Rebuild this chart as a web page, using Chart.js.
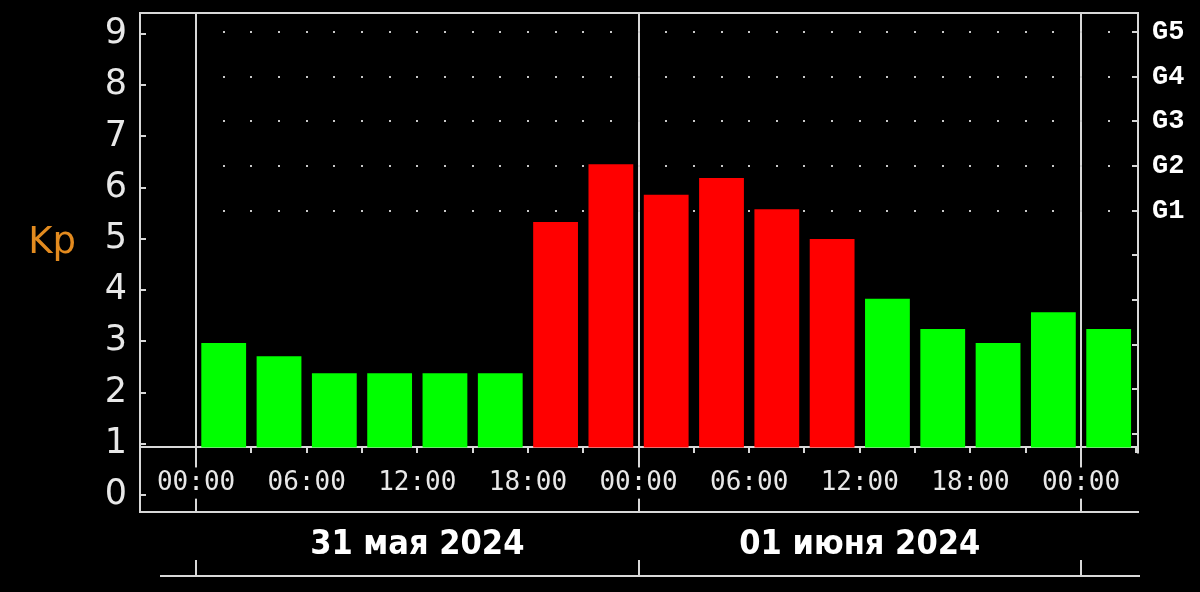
<!DOCTYPE html>
<html>
<head>
<meta charset="utf-8">
<script src="https://cdn.jsdelivr.net/npm/chart.js@4.4.1/dist/chart.umd.min.js"></script>
<style>
  html, body { margin: 0; padding: 0; background: #000; }
  #kp-chart { display: block; background: #000; }
</style>
</head>
<body>
<canvas id="kp-chart" width="1200" height="592"></canvas>
<script>
// Kp index, 3-hour intervals, 31 May - 01 June 2024
const periodMid = [1.5, 4.5, 7.5, 10.5, 13.5, 16.5, 19.5, 22.5, 25.5, 28.5, 31.5, 34.5, 37.5, 40.5, 43.5, 46.5, 49.5];
const kpValues = [2.97, 2.71, 2.38, 2.38, 2.38, 2.38, 5.33, 6.46, 5.86, 6.19, 5.58, 5.00, 3.83, 3.24, 2.97, 3.57, 3.24];

const kpTicks = [0, 1, 2, 3, 4, 5, 6, 7, 8, 9];
const gTicks = [1, 2, 3, 4, 5, 6, 7, 8, 9, 10];
const gLabels = ['', '', '', '', '', 'G1', 'G2', 'G3', 'G4', 'G5'];
const gRows = [6, 7, 8, 9, 10];

const hourTicks = [0, 3, 6, 9, 12, 15, 18, 21, 24, 27, 30, 33, 36, 39, 42, 45, 48, 51];
const hourLabels = ['00:00', '', '06:00', '', '12:00', '', '18:00', '', '00:00', '', '06:00', '', '12:00', '', '18:00', '', '00:00', ''];
const dayBounds = [0, 24, 48];
const dateTicks = [12, 36];
const dateLabels = ['31 мая 2024', '01 июня 2024'];

const STORM_LEVEL = 5;
const AXIS_LEVEL = 0.93;

const GREEN = '#00ff00';
const RED = '#ff0000';
const LINE = '#d8d8d8';
const TEXT = '#e8e8e8';
const ORANGE = '#e38b1f';

const X_MIN = -3.04, X_MAX = 51.09;

const barColors = kpValues.map(v => v >= STORM_LEVEL ? RED : GREEN);

// chart.js reserves room for edge labels; the frame here is fixed
function noPadding(s) {
    s.paddingLeft = 0;
    s.paddingRight = 0;
    s.paddingTop = 0;
    s.paddingBottom = 0;
}

const framePlugin = {
    id: 'frame',
    beforeDraw(chart) {
        const {ctx, chartArea: a, scales: {x, y2}} = chart;
        ctx.save();
        // day boundaries
        ctx.strokeStyle = LINE;
        ctx.lineWidth = 2;
        dayBounds.forEach(h => {
            const px = Math.round(x.getPixelForValue(h));
            ctx.beginPath();
            ctx.moveTo(px, a.top);
            ctx.lineTo(px, a.bottom);
            ctx.stroke();
        });
        // dotted storm levels
        ctx.fillStyle = '#c8c8c8';
        gRows.forEach(g => {
            const py = Math.round(y2.getPixelForValue(g));
            for (let h = 1.5; h < 51; h += 1.5) {
                const px = Math.round(x.getPixelForValue(h));
                ctx.fillRect(px - 1, py - 1, 2, 2);
            }
        });
        ctx.restore();
    },
    afterDraw(chart) {
        const {ctx, chartArea: a, scales: {x, y, y2}} = chart;
        ctx.save();
        ctx.strokeStyle = LINE;
        ctx.lineWidth = 2;
        const axisY = y.getPixelForValue(AXIS_LEVEL);

        ctx.beginPath();
        ctx.moveTo(a.left - 1, a.top);
        ctx.lineTo(a.right + 1, a.top);
        ctx.moveTo(a.right, a.top);
        ctx.lineTo(a.right, axisY + 6);
        ctx.stroke();

        // inward ticks
        ctx.beginPath();
        kpTicks.forEach(v => {
            const py = Math.round(y.getPixelForValue(v));
            ctx.moveTo(a.left, py);
            ctx.lineTo(a.left + 6, py);
        });
        gTicks.forEach(v => {
            const py = Math.round(y2.getPixelForValue(v));
            ctx.moveTo(a.right - 6, py);
            ctx.lineTo(a.right, py);
        });
        ctx.stroke();

        // date strip bottom line
        const lowY = a.bottom + 64;
        ctx.beginPath();
        ctx.moveTo(a.left + 20, lowY);
        ctx.lineTo(a.right + 2, lowY);
        dayBounds.forEach(h => {
            const px = Math.round(x.getPixelForValue(h));
            ctx.moveTo(px, lowY - 16);
            ctx.lineTo(px, lowY);
        });
        ctx.stroke();

        // Kp title
        ctx.fillStyle = ORANGE;
        ctx.font = '37px "DejaVu Sans"';
        ctx.textAlign = 'center';
        ctx.textBaseline = 'alphabetic';
        ctx.fillText('Kp', 52, y.getPixelForValue(4.98) + 13);
        ctx.restore();
    }
};

const ctx = document.getElementById('kp-chart');
new Chart(ctx, {
    type: 'bar',
    data: {
        datasets: [{
            data: periodMid.map((h, i) => ({x: h, y: kpValues[i]})),
            backgroundColor: barColors,
            base: AXIS_LEVEL,
            borderWidth: 0,
            barPercentage: 0.81,
            categoryPercentage: 1,
            xAxisID: 'x',
            yAxisID: 'y'
        }]
    },
    options: {
        responsive: false,
        animation: false,
        layout: { padding: { top: 13, left: 0, right: 0, bottom: 0 } },
        plugins: { legend: { display: false }, tooltip: { enabled: false } },
        scales: {
            x: {
                type: 'linear',
                offset: false,
                min: X_MIN, max: X_MAX,
                position: { y: AXIS_LEVEL },
                afterBuildTicks: s => { s.ticks = hourTicks.map(v => ({value: v})); },
                afterFit: noPadding,
                ticks: {
                    callback: (v, i) => hourLabels[i],
                    color: TEXT,
                    font: { family: '"DejaVu Sans Mono"', size: 26 },
                    padding: 15,
                    autoSkip: false,
                    maxRotation: 0,
                    showLabelBackdrop: true,
                    backdropColor: '#000',
                    backdropPadding: 0
                },
                grid: { offset: false, drawOnChartArea: false, drawTicks: true, tickLength: 5, color: LINE, lineWidth: 2 },
                border: { display: true, color: LINE, width: 2 }
            },
            x2: {
                type: 'linear',
                offset: false,
                position: 'bottom',
                min: X_MIN, max: X_MAX,
                afterBuildTicks: s => { s.ticks = dateTicks.map(v => ({value: v})); },
                afterFit: s => { noPadding(s); s.height = 80; },
                ticks: {
                    callback: (v, i) => dateLabels[i],
                    color: '#ffffff',
                    font: { family: '"DejaVu Sans Condensed", "Liberation Sans Narrow", "DejaVu Sans"', size: 34, weight: 'bold' },
                    padding: 13,
                    autoSkip: false,
                    maxRotation: 0
                },
                grid: { offset: false, display: false, drawTicks: false },
                border: { display: true, color: LINE, width: 2 }
            },
            y: {
                position: 'left',
                min: -0.33, max: 9.41,
                afterBuildTicks: s => { s.ticks = kpTicks.map(v => ({value: v})); },
                afterFit: s => { noPadding(s); s.width = 140; },
                ticks: {
                    color: TEXT,
                    font: { family: '"DejaVu Sans"', size: 35 },
                    padding: 13,
                    autoSkip: false
                },
                grid: { display: false, drawTicks: false },
                border: { display: true, color: LINE, width: 2 }
            },
            y2: {
                position: 'right',
                min: -0.746, max: 10.43,
                afterBuildTicks: s => { s.ticks = gTicks.map(v => ({value: v})); },
                afterFit: s => { noPadding(s); s.width = 62; },
                ticks: {
                    callback: (v, i) => gLabels[i],
                    color: '#ffffff',
                    font: { family: '"Liberation Mono"', size: 27, weight: 'bold' },
                    padding: 14,
                    autoSkip: false
                },
                grid: { display: false, drawTicks: false },
                border: { display: false }
            }
        }
    },
    plugins: [framePlugin]
});
</script>
</body>
</html>
